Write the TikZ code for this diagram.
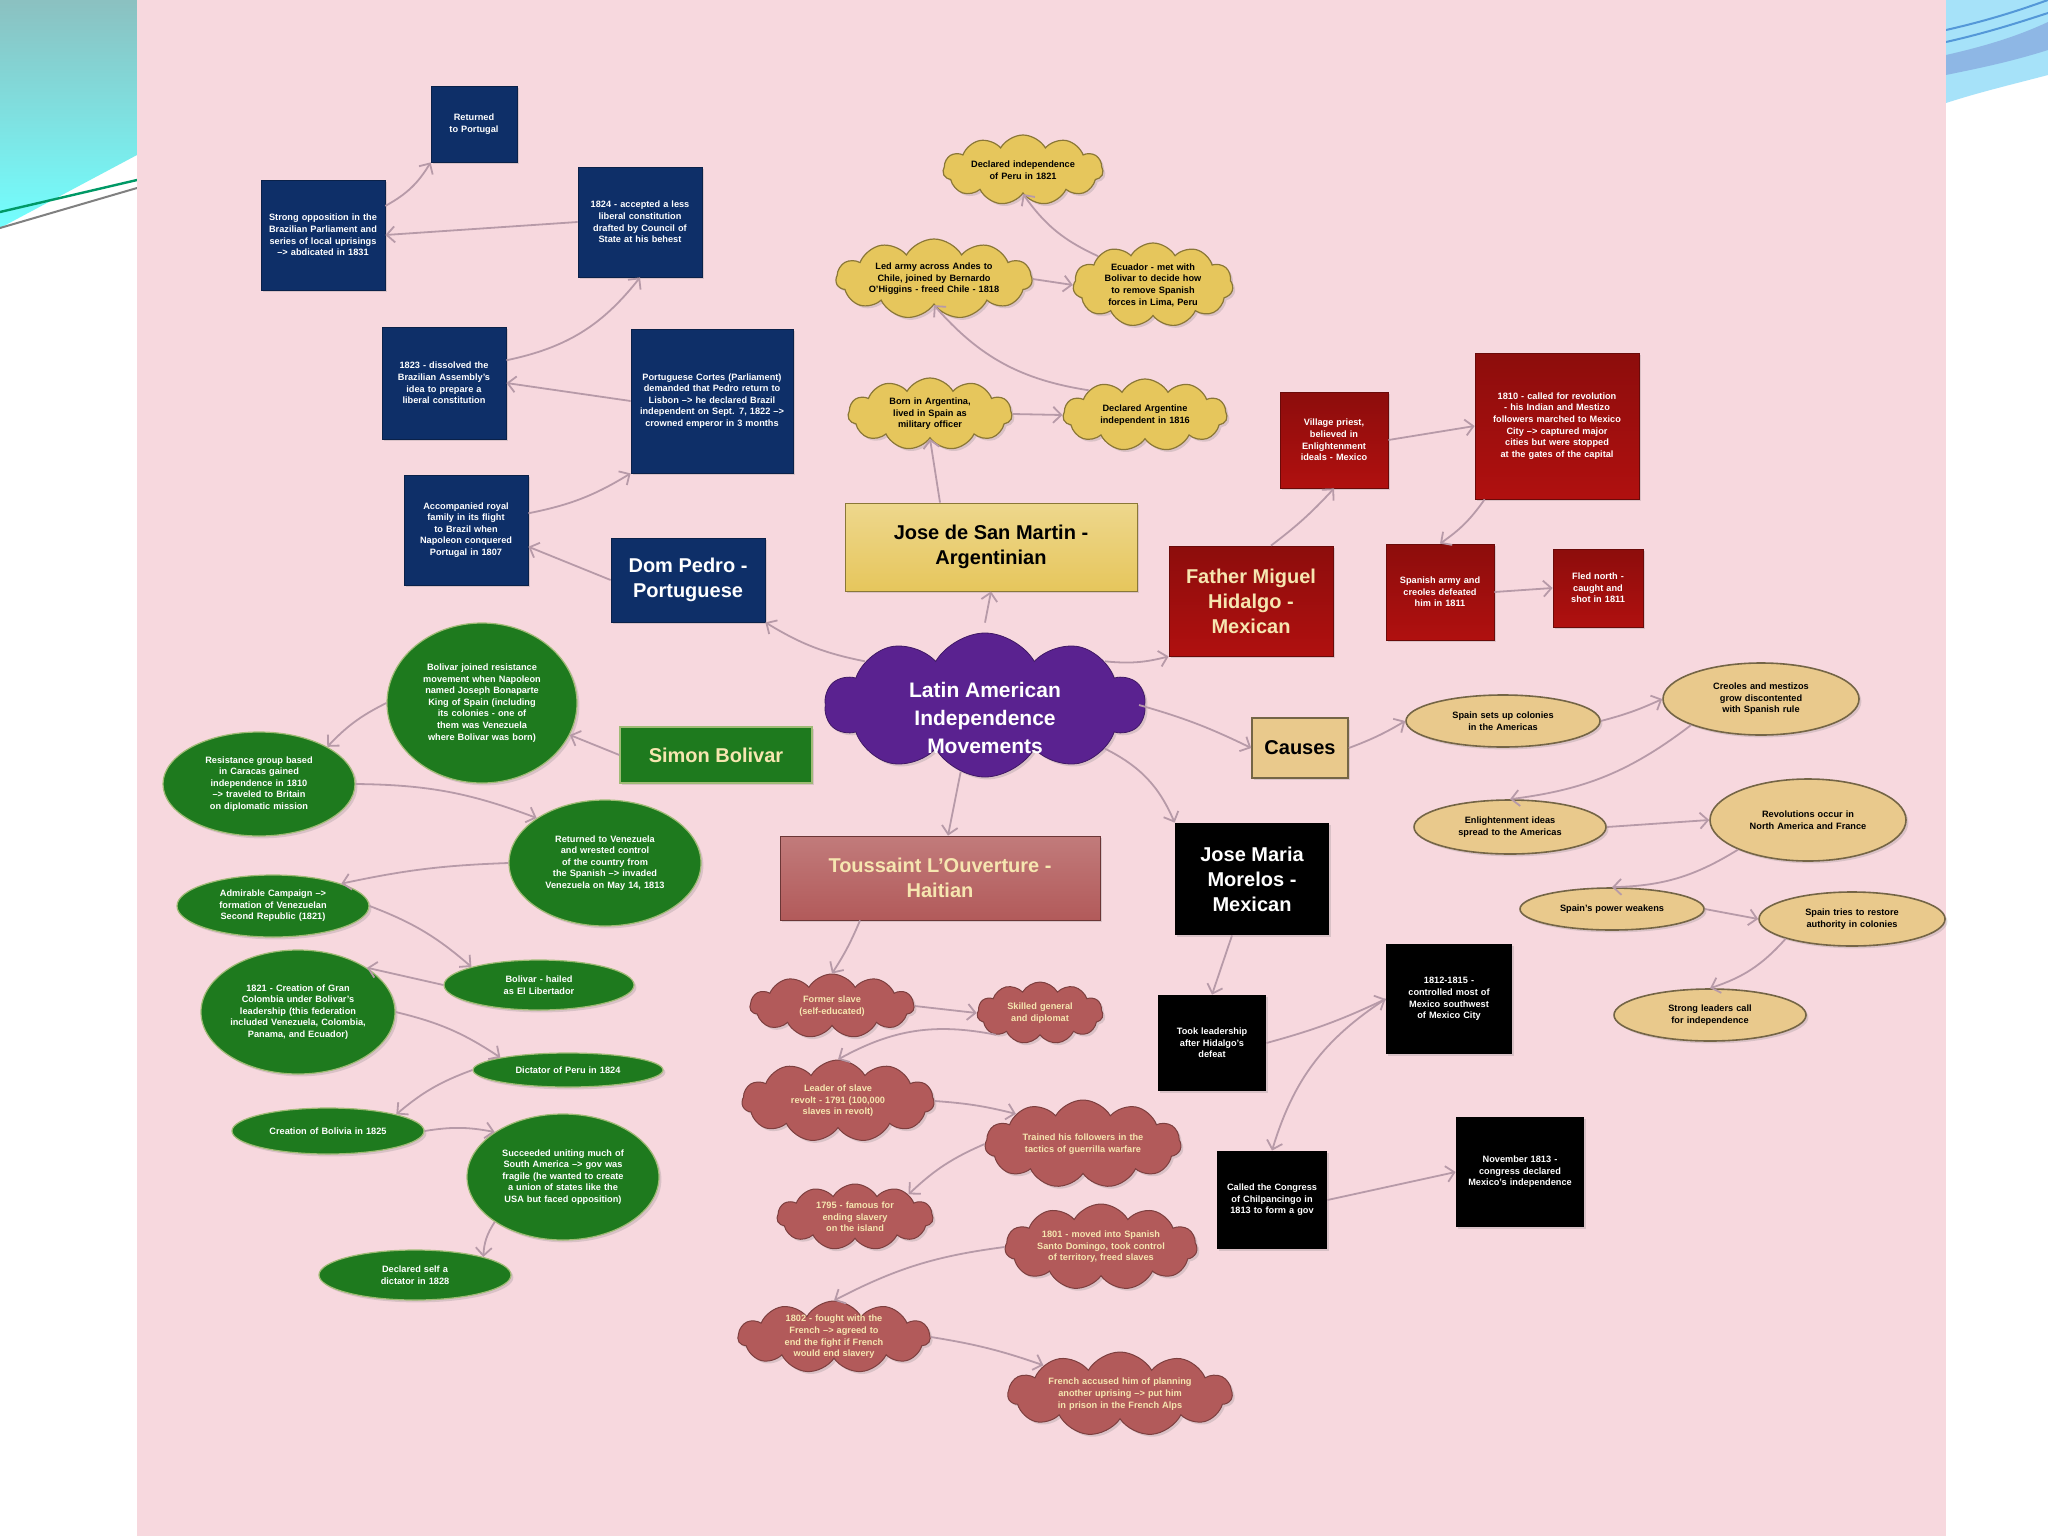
\documentclass[tikz,border=0pt]{standalone}
\usepackage{fontspec}
\setmainfont{Liberation Sans}
\usetikzlibrary{shapes.symbols,shapes.geometric,arrows.meta,shadows}
\definecolor{bgpink}{HTML}{F7D8DE}
\definecolor{nblue}{HTML}{0E2F68}
\definecolor{ngold}{HTML}{E6C65C}
\definecolor{nred}{HTML}{B0100F}
\definecolor{ngreen}{HTML}{1E7A1E}
\definecolor{nbrown}{HTML}{B25A5A}
\definecolor{ntan}{HTML}{E9C98C}
\definecolor{npurple}{HTML}{5A2290}
\definecolor{arr}{HTML}{B79AA8}
\definecolor{ltyel}{HTML}{F6E6B0}
\tikzset{
 base/.style={drop shadow={opacity=0.25,shadow xshift=1.2pt,shadow yshift=-1.2pt}},
 bluebox/.style={base,rectangle,fill=nblue,draw=nblue!70!black},
 goldbox/.style={base,rectangle,top color=ngold!70!white,bottom color=ngold,draw=ngold!60!black},
 goldcloud/.style={base,cloud,cloud puffs=11,cloud puff arc=120,aspect=2.2,fill=ngold,draw=ngold!60!black,line width=0.6pt},
 redbox/.style={base,rectangle,top color=nred!80!black,bottom color=nred,draw=nred!60!black},
 tanbox/.style={base,rectangle,fill=ntan,draw=ntan!50!black,line width=0.8pt},
 tanell/.style={base,ellipse,fill=ntan,draw=ntan!50!black,line width=0.8pt},
 greenell/.style={base,ellipse,fill=ngreen,draw=ngreen!40!ltyel,line width=0.6pt},
 greenbox/.style={base,rectangle,fill=ngreen,draw=ngreen!40!ltyel,line width=0.6pt},
 browncloud/.style={base,cloud,cloud puffs=11,cloud puff arc=120,aspect=2.2,fill=nbrown,draw=nbrown!70!black,line width=0.5pt},
 brownbox/.style={base,rectangle,top color=nbrown!80!white,bottom color=nbrown,draw=nbrown!60!black},
 blackbox/.style={base,rectangle,fill=black},
 purplecloud/.style={base,cloud,cloud puffs=10,cloud puff arc=120,aspect=2.2,fill=npurple,draw=npurple!70!black},
 txt/.style={align=center,font=\bfseries\fontsize{4.6}{5.8}\selectfont,inner sep=0pt,execute at begin node={\hyphenpenalty=10000\exhyphenpenalty=10000}},
 hdr/.style={align=center,font=\bfseries\fontsize{10}{12.5}\selectfont,inner sep=0pt},
 ar/.style={draw=arr,line width=0.9pt,-{Straight Barb[length=4pt,width=8pt]}},
}
\newcommand\shp[8]{\node[#1,minimum width=#4pt,minimum height=#5pt] (#2) at (#3) {};
 \node[txt,text width=#6pt,text=#7] at (#2.center) {#8};}
\newcommand\hshp[7]{\node[#1,minimum width=#4pt,minimum height=#5pt] (#2) at (#3) {};
 \node[hdr,text=#6] at (#2.center) {#7};}
\begin{document}
\begin{tikzpicture}[x=0.5pt,y=-0.5pt]
\useasboundingbox (0,0) rectangle (2048,1536);
\fill[white] (0,0) rectangle (2048,1536);
\shade[top color=cyan!30!gray!70!white,bottom color=cyan!55!white] (0,0) -- (137,0) -- (137,155) -- (0,228) -- cycle;
\draw[teal!80!green,line width=1.2pt] (0,212) -- (137,180);
\draw[gray,line width=1pt] (0,228) -- (137,188);
\fill[cyan!35!white] (1946,0) -- (2048,0) -- (2048,75) .. controls (2010,85) and (1980,92) .. (1946,103) -- cycle;
\fill[cyan!60!blue!45!white] (1946,55) .. controls (1990,45) and (2020,35) .. (2048,22) -- (2048,50) .. controls (2010,62) and (1980,68) .. (1946,75) -- cycle;
\draw[cyan!60!blue!70!white,line width=1pt] (1946,30) .. controls (1990,20) and (2020,10) .. (2048,0);
\draw[cyan!60!blue!70!white,line width=1pt] (1946,42) .. controls (1990,32) and (2020,22) .. (2048,13);
\fill[bgpink] (137,0) rectangle (1946,1536);

% center
\node[purplecloud,minimum width=160pt,minimum height=72pt] (center) at (985,705) {};
\node[hdr,text=white,font=\bfseries\fontsize{10.5}{14}\selectfont] at (985,718) {Latin American\\Independence\\Movements};

% blue
\hshp{bluebox}{dom}{688,580}{77}{42}{white}{Dom Pedro -\\Portuguese}
\shp{bluebox}{ret}{474,124}{43}{38}{38}{white}{Returned to Portugal}
\shp{bluebox}{strong}{323,235}{62}{55}{56}{white}{Strong opposition in the Brazilian Parliament and series of local uprisings --> abdicated in 1831}
\shp{bluebox}{a1824}{640,222}{62}{55}{56}{white}{1824 - accepted a less liberal constitution drafted by Council of State at his behest}
\shp{bluebox}{d1823}{444,383}{62}{56}{56}{white}{1823 - dissolved the Brazilian Assembly's idea to prepare a liberal constitution}
\shp{bluebox}{cortes}{712,401}{81}{72}{75}{white}{Portuguese Cortes (Parliament) demanded that Pedro return to Lisbon --> he declared Brazil independent on Sept. 7, 1822 --> crowned emperor in 3 months}
\shp{bluebox}{accomp}{466,530}{62}{55}{56}{white}{Accompanied royal family in its flight to Brazil when Napoleon conquered Portugal in 1807}

% gold
\hshp{goldbox}{sanm}{991,547}{146}{44}{black}{Jose de San Martin -\\Argentinian}
\shp{goldcloud}{born}{930,414}{82}{36}{50}{black}{Born in Argentina, lived in Spain as military officer}
\shp{goldcloud}{declarg}{1145,415}{82}{36}{52}{black}{Declared Argentine independent in 1816}
\shp{goldcloud}{led}{934,279}{98}{40}{66}{black}{Led army across Andes to Chile, joined by Bernardo O'Higgins - freed Chile - 1818}
\shp{goldcloud}{ecu}{1153,285}{80}{42}{58}{black}{Ecuador - met with Bolivar to decide how to remove Spanish forces in Lima, Peru}
\shp{goldcloud}{peru}{1023,170}{80}{35}{54}{black}{Declared independence of Peru in 1821}

% red
\hshp{redbox}{hid}{1251,601}{82}{55}{ltyel}{Father Miguel\\Hidalgo -\\Mexican}
\shp{redbox}{priest}{1334,440}{54}{48}{46}{white}{Village priest, believed in Enlightenment ideals - Mexico}
\shp{redbox}{r1810}{1557,426}{82}{73}{74}{white}{1810 - called for revolution - his Indian and Mestizo followers marched to Mexico City --> captured major cities but were stopped at the gates of the capital}
\shp{redbox}{span}{1440,592}{54}{48}{46}{white}{Spanish army and creoles defeated him in 1811}
\shp{redbox}{fled}{1598,588}{45}{39}{40}{white}{Fled north - caught and shot in 1811}

% causes
\hshp{tanbox}{causes}{1300,748}{48}{30}{black}{Causes}
\shp{tanell}{sets}{1503,721}{97}{26}{62}{black}{Spain sets up colonies in the Americas}
\shp{tanell}{creo}{1761,699}{98}{36}{62}{black}{Creoles and mestizos grow discontented with Spanish rule}
\shp{tanell}{enl}{1510,827}{96}{27}{62}{black}{Enlightenment ideas spread to the Americas}
\shp{tanell}{revo}{1808,820}{98}{41}{62}{black}{Revolutions occur in North America and France}
\shp{tanell}{weak}{1612,909}{92}{21}{70}{black}{Spain's power weakens}
\shp{tanell}{rest}{1852,919}{93}{27}{60}{black}{Spain tries to restore authority in colonies}
\shp{tanell}{lead}{1710,1015}{96}{26}{60}{black}{Strong leaders call for independence}

% green
\hshp{greenbox}{simon}{716,755}{96}{28}{ltyel}{Simon Bolivar}
\shp{greenell}{joined}{482,703}{95}{80}{64}{white}{Bolivar joined resistance movement when Napoleon named Joseph Bonaparte King of Spain (including its colonies - one of them was Venezuela where Bolivar was born)}
\shp{greenell}{resist}{259,784}{96}{52}{66}{white}{Resistance group based in Caracas gained independence in 1810 --> traveled to Britain on diplomatic mission}
\shp{greenell}{retven}{605,863}{96}{63}{64}{white}{Returned to Venezuela and wrested control of the country from the Spanish --> invaded Venezuela on May 14, 1813}
\shp{greenell}{admir}{273,906}{96}{31}{72}{white}{Admirable Campaign --> formation of Venezuelan Second Republic (1821)}
\shp{greenell}{hail}{539,985}{95}{25}{60}{white}{Bolivar - hailed as El Libertador}
\shp{greenell}{g1821}{298,1012}{97}{62}{68}{white}{1821 - Creation of Gran Colombia under Bolivar's leadership (this federation included Venezuela, Colombia, Panama, and Ecuador)}
\shp{greenell}{dict}{568,1070}{95}{17}{80}{white}{Dictator of Peru in 1824}
\shp{greenell}{boli}{328,1131}{96}{23}{62}{white}{Creation of Bolivia in 1825}
\shp{greenell}{succ}{563,1177}{96}{63}{70}{white}{Succeeded uniting much of South America --> gov was fragile (he wanted to create a union of states like the USA but faced opposition)}
\shp{greenell}{dself}{415,1275}{96}{25}{62}{white}{Declared self a dictator in 1828}

% brown
\hshp{brownbox}{tous}{940,878}{160}{42}{ltyel}{Toussaint L'Ouverture -\\Haitian}
\shp{browncloud}{former}{832,1006}{82}{32}{46}{ltyel}{Former slave (self-educated)}
\shp{browncloud}{skill}{1040,1013}{63}{31}{40}{ltyel}{Skilled general and diplomat}
\shp{browncloud}{leader}{838,1101}{96}{41}{62}{ltyel}{Leader of slave revolt - 1791 (100,000 slaves in revolt)}
\shp{browncloud}{train}{1083,1144}{98}{44}{62}{ltyel}{Trained his followers in the tactics of guerrilla warfare}
\shp{browncloud}{f1795}{855,1217}{78}{33}{50}{ltyel}{1795 - famous for ending slavery on the island}
\shp{browncloud}{f1801}{1101,1247}{96}{43}{64}{ltyel}{1801 - moved into Spanish Santo Domingo, took control of territory, freed slaves}
\shp{browncloud}{f1802}{834,1337}{96}{36}{62}{ltyel}{1802 - fought with the French --> agreed to end the fight if French would end slavery}
\shp{browncloud}{french}{1120,1394}{112}{42}{74}{ltyel}{French accused him of planning another uprising --> put him in prison in the French Alps}

% black
\hshp{blackbox}{mor}{1252,879}{77}{56}{white}{Jose Maria\\Morelos -\\Mexican}
\shp{blackbox}{took}{1212,1043}{54}{48}{46}{white}{Took leadership after Hidalgo's defeat}
\shp{blackbox}{b1812}{1449,999}{63}{55}{52}{white}{1812-1815 - controlled most of Mexico southwest of Mexico City}
\shp{blackbox}{called}{1272,1200}{55}{49}{46}{white}{Called the Congress of Chilpancingo in 1813 to form a gov}
\shp{blackbox}{nov}{1520,1172}{64}{55}{54}{white}{November 1813 - congress declared Mexico's independence}

% edges
\draw[ar] (center.160) to[bend left=10] (dom.south east);
\draw[ar] (center.north) ++(0,-10) -- (sanm.south);
\draw[ar] (center.20) to[bend right=10] (hid.south west);
\draw[ar] (center.east) ++(-6,0) to[bend left=5] (causes.west);
\draw[ar] (center.-20) to[bend left=20] (mor.north west);
\draw[ar] (center.-110) -- (tous.north -| 948,0);
\draw[ar] (dom.west) -- (accomp.-15);
\draw[ar] (accomp.15) to[bend right=10] (cortes.south west);
\draw[ar] (cortes.west) -- (d1823.east);
\draw[ar] (d1823.20) to[bend right=20] (a1824.south);
\draw[ar] (a1824.west) -- (strong.east);
\draw[ar] (strong.25) to[bend right=15] (ret.south west);
\draw[ar] (sanm.north -| 940,0) -- (born.south);
\draw[ar] (born.east) -- (declarg.west);
\draw[ar] (declarg.north west) to[bend left=20] (led.south);
\draw[ar] (led.east) -- (ecu.west);
\draw[ar] (ecu.north west) to[bend left=15] (peru.south);
\draw[ar] (hid.north) ++(20,0) to[bend right=5] (priest.south);
\draw[ar] (priest.east) -- (r1810.west);
\draw[ar] (r1810.south west) ++(10,0) to[bend left=10] (span.north);
\draw[ar] (span.east) -- (fled.west);
\draw[ar] (causes.east) to[bend right=5] (sets.west);
\draw[ar] (sets.east) to[bend right=5] (creo.west);
\draw[ar] (creo.south west) to[bend left=15] (enl.north);
\draw[ar] (enl.east) -- (revo.west);
\draw[ar] (revo.south west) to[bend left=15] (weak.north);
\draw[ar] (weak.east) -- (rest.west);
\draw[ar] (rest.south west) to[bend left=15] (lead.north);
\draw[ar] (simon.west) -- (joined.-20);
\draw[ar] (joined.west) to[bend right=10] (resist.north east);
\draw[ar] (resist.east) to[bend left=10] (retven.north west);
\draw[ar] (retven.west) to[bend right=5] (admir.north east);
\draw[ar] (admir.east) to[bend left=10] (hail.north west);
\draw[ar] (hail.west) -- (g1821.north east);
\draw[ar] (g1821.east) to[bend left=10] (dict.north west);
\draw[ar] (dict.west) to[bend right=10] (boli.north east);
\draw[ar] (boli.east) to[bend left=10] (succ.north west);
\draw[ar] (succ.south west) to[bend right=15] (dself.north east);
\draw[ar] (tous.south -| 860,0) to[bend left=5] (former.north);
\draw[ar] (former.east) -- (skill.west);
\draw[ar] (skill.south west) to[bend right=20] (leader.north);
\draw[ar] (leader.east) to[bend left=5] (train.north west);
\draw[ar] (train.west) to[bend right=10] (f1795.north east);
\draw[ar] (f1801.west) to[bend right=10] (f1802.north);
\draw[ar] (f1802.east) to[bend left=5] (french.north west);
\draw[ar] (mor.south) ++(-20,0) -- (took.north);
\draw[ar] (took.east) to[bend right=5] (b1812.west);
\draw[ar] (b1812.west) to[bend right=20] (called.north);
\draw[ar] (called.east) -- (nov.west);
\end{tikzpicture}
\end{document}
